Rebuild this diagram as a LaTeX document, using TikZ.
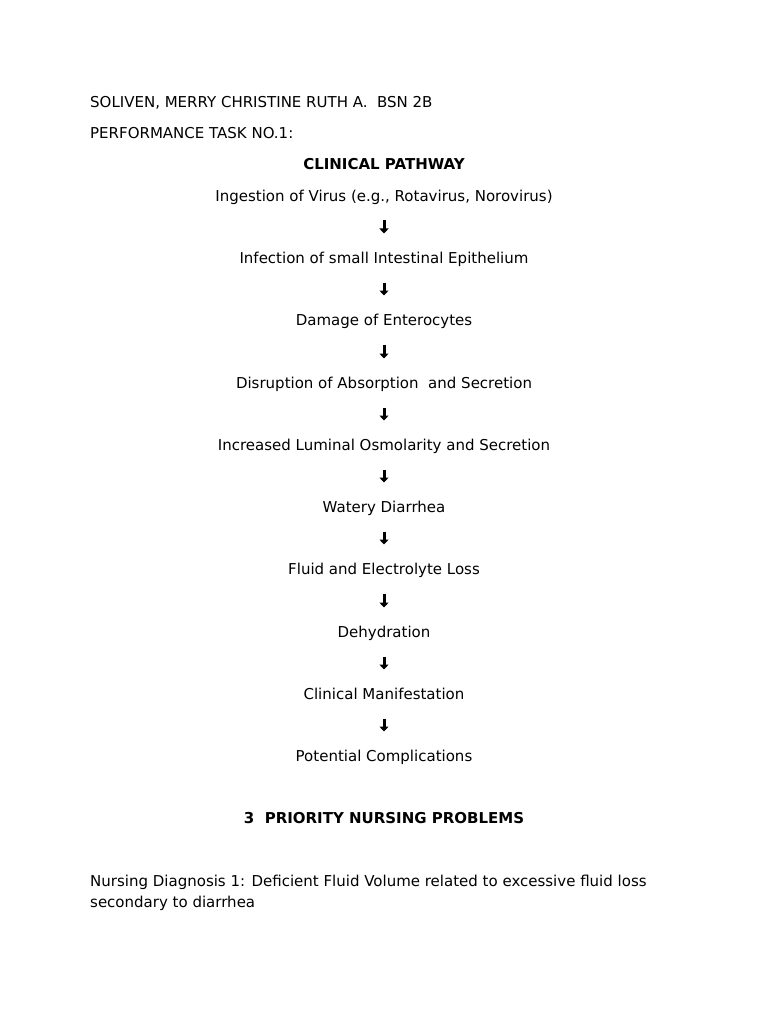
\documentclass[tikz,border=0pt]{standalone}
\usepackage{fontspec}
\setmainfont{DejaVu Sans}
\usetikzlibrary{arrows.meta}
\begin{document}
\begin{tikzpicture}[x=1pt,y=-1pt,
  font=\fontsize{15}{18}\selectfont,
  txt/.style={inner sep=0pt, text height=11pt, text depth=0pt, anchor=center},
  lft/.style={inner sep=0pt, text height=11pt, text depth=0pt, anchor=west},
  arr/.style={line width=3pt, -{Triangle[width=9pt,length=5pt]}, shorten <=24.5pt, shorten >=24.5pt}]
\useasboundingbox[fill=white] (0,0) rectangle (768,1024);
\node[lft] (hdr) at (90,102) {SOLIVEN, MERRY CHRISTINE RUTH A.~ BSN 2B};
\node[lft] (task) at (90,133) {PERFORMANCE TASK NO.1:};
\node[txt] (title) at (384,164) {\bfseries CLINICAL PATHWAY};
\node[txt] (n1) at (384,196) {Ingestion of Virus (e.g., Rotavirus, Norovirus)};
\node[txt] (n2) at (384,258) {Infection of small Intestinal Epithelium};
\node[txt] (n3) at (384,320) {Damage of Enterocytes};
\node[txt] (n4) at (384,383) {Disruption of Absorption~ and Secretion};
\node[txt] (n5) at (384,445) {Increased Luminal Osmolarity and Secretion};
\node[txt] (n6) at (384,507) {Watery Diarrhea};
\node[txt] (n7) at (384,569) {Fluid and Electrolyte Loss};
\node[txt] (n8) at (384,632) {Dehydration};
\node[txt] (n9) at (384,694) {Clinical Manifestation};
\node[txt] (n10) at (384,756) {Potential Complications};
\foreach \a/\b in {n1/n2,n2/n3,n3/n4,n4/n5,n5/n6,n6/n7,n7/n8,n8/n9,n9/n10}
  \draw[arr] (\a.center) -- (\b.center);
\node[txt] (prob) at (384,818) {\bfseries 3~ PRIORITY NURSING PROBLEMS};
\node[lft] (nd1) at (90,881) {Nursing Diagnosis 1: Deficient Fluid Volume related to excessive fluid loss};
\node[lft] (nd1b) at (90,902) {secondary to diarrhea};
\end{tikzpicture}
\end{document}
